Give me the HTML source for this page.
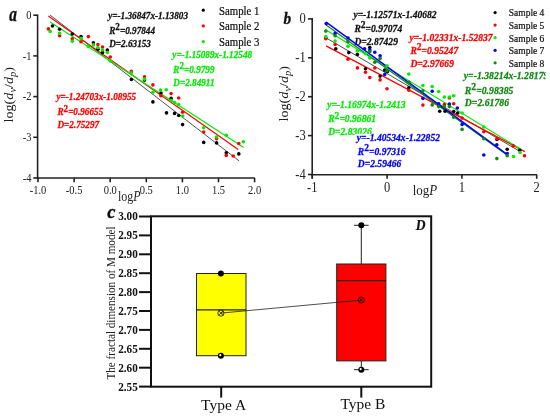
<!DOCTYPE html><html><head><meta charset="utf-8"><style>html,body{margin:0;padding:0;background:#fff;}svg{display:block;filter:blur(0.35px);}</style></head><body>
<svg width="550" height="418" viewBox="0 0 550 418" font-family='"Liberation Serif", serif'>
<rect width="550" height="418" fill="#fff"/>
<defs><clipPath id="clipb"><rect x="0" y="0" width="545.5" height="418"/></clipPath></defs>
<g stroke="#222" stroke-width="1.6" fill="none">
<line x1="37.6" y1="14.5" x2="37.6" y2="178.8"/>
<line x1="36.8" y1="178" x2="254.8" y2="178"/>
<line x1="33.3" y1="15.2" x2="37.6" y2="15.2"/>
<line x1="33.3" y1="55.9" x2="37.6" y2="55.9"/>
<line x1="33.3" y1="96.6" x2="37.6" y2="96.6"/>
<line x1="33.3" y1="137.3" x2="37.6" y2="137.3"/>
<line x1="33.3" y1="178.0" x2="37.6" y2="178.0"/>
<line x1="38.0" y1="178" x2="38.0" y2="182.3"/>
<line x1="74.1" y1="178" x2="74.1" y2="182.3"/>
<line x1="110.2" y1="178" x2="110.2" y2="182.3"/>
<line x1="146.3" y1="178" x2="146.3" y2="182.3"/>
<line x1="182.4" y1="178" x2="182.4" y2="182.3"/>
<line x1="218.5" y1="178" x2="218.5" y2="182.3"/>
<line x1="254.6" y1="178" x2="254.6" y2="182.3"/>
</g>
<g font-size="10.5" fill="#222" text-anchor="end">
<text transform="translate(31.50,18.80) scale(1,1.15)" >0</text>
<text transform="translate(31.50,59.50) scale(1,1.15)" >-1</text>
<text transform="translate(31.50,100.20) scale(1,1.15)" >-2</text>
<text transform="translate(31.50,140.90) scale(1,1.15)" >-3</text>
<text transform="translate(31.50,181.60) scale(1,1.15)" >-4</text>
</g>
<g font-size="10.5" fill="#222" text-anchor="middle">
<text transform="translate(38.00,194.00) scale(1,1.15)" >-1.0</text>
<text transform="translate(74.10,194.00) scale(1,1.15)" >-0.5</text>
<text transform="translate(110.20,194.00) scale(1,1.15)" >0.0</text>
<text transform="translate(146.30,194.00) scale(1,1.15)" >0.5</text>
<text transform="translate(182.40,194.00) scale(1,1.15)" >1.0</text>
<text transform="translate(218.50,194.00) scale(1,1.15)" >1.5</text>
<text transform="translate(254.60,194.00) scale(1,1.15)" >2.0</text>
</g>
<text transform="translate(118.00,200.50) scale(1,1.15)" font-size="12" fill="#222">log<tspan font-style="italic">P</tspan></text>
<text transform="translate(13.3,122.5) scale(1,1.05) rotate(-90)" font-size="13.5" fill="#222">log(<tspan font-style="italic">d</tspan><tspan font-style="italic" font-size="10" dy="3">v</tspan><tspan dy="-3">/</tspan><tspan font-style="italic">d</tspan><tspan font-style="italic" font-size="10" dy="3">p</tspan><tspan dy="-3">)</tspan></text>
<text transform="translate(9.3,20.6) scale(0.9,1.2)" font-size="17" font-weight="bold" font-style="italic" fill="#111" stroke="#111" stroke-width="0.35">a</text>
<line x1="50.1" y1="15.1" x2="239.1" y2="160.9" stroke="#505050" stroke-width="1.0"/>
<line x1="48.3" y1="16.0" x2="238.2" y2="149.5" stroke="#ff0000" stroke-width="1.2"/>
<line x1="50.1" y1="22.0" x2="243.7" y2="147.6" stroke="#00ee00" stroke-width="1.2"/>
<circle cx="52.5" cy="26.0" r="1.8" fill="#000000"/><circle cx="59.6" cy="29.3" r="1.8" fill="#000000"/><circle cx="72.3" cy="34.0" r="1.8" fill="#000000"/><circle cx="81" cy="36.5" r="1.8" fill="#000000"/><circle cx="93.4" cy="42.7" r="1.8" fill="#000000"/><circle cx="97.9" cy="49.3" r="1.8" fill="#000000"/><circle cx="102.5" cy="52.6" r="1.8" fill="#000000"/><circle cx="107.3" cy="50" r="1.8" fill="#000000"/><circle cx="131.4" cy="79.5" r="1.8" fill="#000000"/><circle cx="144.5" cy="80.1" r="1.8" fill="#000000"/><circle cx="152.9" cy="101.9" r="1.8" fill="#000000"/><circle cx="161" cy="93" r="1.8" fill="#000000"/><circle cx="171.1" cy="98.4" r="1.8" fill="#000000"/><circle cx="166.5" cy="112.9" r="1.8" fill="#000000"/><circle cx="174.6" cy="113.4" r="1.8" fill="#000000"/><circle cx="178.7" cy="115.5" r="1.8" fill="#000000"/><circle cx="182.6" cy="124.6" r="1.8" fill="#000000"/><circle cx="203.7" cy="142.4" r="1.8" fill="#000000"/><circle cx="216.6" cy="142.9" r="1.8" fill="#000000"/><circle cx="226.3" cy="152.8" r="1.8" fill="#000000"/><circle cx="238.8" cy="153.9" r="1.8" fill="#000000"/>
<circle cx="48.4" cy="28.9" r="1.8" fill="#ff0000"/><circle cx="59.6" cy="35.7" r="1.8" fill="#ff0000"/><circle cx="72.3" cy="38.7" r="1.8" fill="#ff0000"/><circle cx="81" cy="41.7" r="1.8" fill="#ff0000"/><circle cx="88.4" cy="36.6" r="1.8" fill="#ff0000"/><circle cx="97.9" cy="44.5" r="1.8" fill="#ff0000"/><circle cx="102.5" cy="47.1" r="1.8" fill="#ff0000"/><circle cx="110.3" cy="57" r="1.8" fill="#ff0000"/><circle cx="131.4" cy="71.4" r="1.8" fill="#ff0000"/><circle cx="144.5" cy="76.9" r="1.8" fill="#ff0000"/><circle cx="152.9" cy="84.9" r="1.8" fill="#ff0000"/><circle cx="160.9" cy="95.8" r="1.8" fill="#ff0000"/><circle cx="171.1" cy="93.6" r="1.8" fill="#ff0000"/><circle cx="178.7" cy="98" r="1.8" fill="#ff0000"/><circle cx="182.6" cy="112.3" r="1.8" fill="#ff0000"/><circle cx="203.7" cy="132.1" r="1.8" fill="#ff0000"/><circle cx="226.3" cy="155.4" r="1.8" fill="#ff0000"/><circle cx="233.2" cy="156" r="1.8" fill="#ff0000"/><circle cx="238.8" cy="143.5" r="1.8" fill="#ff0000"/><circle cx="216.6" cy="138.8" r="1.8" fill="#ff0000"/>
<circle cx="50.2" cy="31.4" r="1.8" fill="#00ee00"/><circle cx="59.6" cy="33.3" r="1.8" fill="#00ee00"/><circle cx="72.3" cy="41.3" r="1.8" fill="#00ee00"/><circle cx="81" cy="38.4" r="1.8" fill="#00ee00"/><circle cx="88.4" cy="46.4" r="1.8" fill="#00ee00"/><circle cx="93.4" cy="44.9" r="1.8" fill="#00ee00"/><circle cx="97.9" cy="47.5" r="1.8" fill="#00ee00"/><circle cx="102.5" cy="50" r="1.8" fill="#00ee00"/><circle cx="107.3" cy="52.5" r="1.8" fill="#00ee00"/><circle cx="110.3" cy="60.9" r="1.8" fill="#00ee00"/><circle cx="131.4" cy="72.8" r="1.8" fill="#00ee00"/><circle cx="144.5" cy="79.1" r="1.8" fill="#00ee00"/><circle cx="152.9" cy="92.2" r="1.8" fill="#00ee00"/><circle cx="160.6" cy="90" r="1.8" fill="#00ee00"/><circle cx="166.3" cy="89.7" r="1.8" fill="#00ee00"/><circle cx="171.1" cy="100.2" r="1.8" fill="#00ee00"/><circle cx="174.6" cy="102.6" r="1.8" fill="#00ee00"/><circle cx="178.7" cy="104.5" r="1.8" fill="#00ee00"/><circle cx="182.6" cy="116" r="1.8" fill="#00ee00"/><circle cx="203.7" cy="127.8" r="1.8" fill="#00ee00"/><circle cx="216.6" cy="137.1" r="1.8" fill="#00ee00"/><circle cx="226.3" cy="135.3" r="1.8" fill="#00ee00"/><circle cx="243.3" cy="141.8" r="1.8" fill="#00ee00"/>
<g font-size="10.8" fill="#111" stroke="#111" stroke-width="0.2">
<circle cx="203.3" cy="10.2" r="1.6" fill="#000000" stroke="none"/>
<text transform="translate(219.00,14.60) scale(1,1.2)" >Sample 1</text>
<circle cx="203.3" cy="25.9" r="1.6" fill="#ff0000" stroke="none"/>
<text transform="translate(219.00,30.30) scale(1,1.2)" >Sample 2</text>
<circle cx="203.3" cy="41.6" r="1.6" fill="#00ee00" stroke="none"/>
<text transform="translate(219.00,46.00) scale(1,1.2)" >Sample 3</text>
</g>
<g font-weight="bold" font-style="italic" font-size="9.2" fill="#111" stroke="#111" stroke-width="0.25"><text transform="translate(108.20,18.80) scale(1,1.15)" >y=-1.36847x-1.13803</text><text transform="translate(109.20,33.90) scale(1,1.15)" >R<tspan font-style="normal" dy="-3.2">2</tspan><tspan dy="3.2">=0.97844</tspan></text><text transform="translate(109.20,46.50) scale(1,1.15)" >D=2.63153</text></g>
<g font-weight="bold" font-style="italic" font-size="9.2" fill="#ff0000" stroke="#ff0000" stroke-width="0.25"><text transform="translate(56.40,100.00) scale(1,1.15)" >y=-1.24703x-1.08955</text><text transform="translate(57.40,115.30) scale(1,1.15)" >R<tspan font-style="normal" dy="-3.2">2</tspan><tspan dy="3.2">=0.96655</tspan></text><text transform="translate(57.40,128.00) scale(1,1.15)" >D=2.75297</text></g>
<g font-weight="bold" font-style="italic" font-size="9.2" fill="#00ee00" stroke="#00ee00" stroke-width="0.25"><text transform="translate(172.30,58.00) scale(1,1.15)" >y=-1.15089x-1.12548</text><text transform="translate(173.30,72.70) scale(1,1.15)" >R<tspan font-style="normal" dy="-3.2">2</tspan><tspan dy="3.2">=0.9799</tspan></text><text transform="translate(173.30,85.50) scale(1,1.15)" >D=2.84911</text></g>
<g stroke="#222" stroke-width="1.6" fill="none">
<line x1="312.2" y1="18" x2="312.2" y2="178.5"/>
<line x1="311.4" y1="174.8" x2="537" y2="174.8"/>
<line x1="308" y1="18.9" x2="312.2" y2="18.9"/>
<line x1="308" y1="57.8" x2="312.2" y2="57.8"/>
<line x1="308" y1="96.7" x2="312.2" y2="96.7"/>
<line x1="308" y1="135.6" x2="312.2" y2="135.6"/>
<line x1="308" y1="174.5" x2="312.2" y2="174.5"/>
<line x1="312.3" y1="174.8" x2="312.3" y2="178.8"/>
<line x1="387.1" y1="174.8" x2="387.1" y2="178.8"/>
<line x1="461.9" y1="174.8" x2="461.9" y2="178.8"/>
<line x1="536.7" y1="174.8" x2="536.7" y2="178.8"/>
</g>
<g font-size="12.5" fill="#222" text-anchor="end">
<text transform="translate(305.80,23.20) scale(1,1.15)" >0</text>
<text transform="translate(305.80,62.10) scale(1,1.15)" >-1</text>
<text transform="translate(305.80,101.00) scale(1,1.15)" >-2</text>
<text transform="translate(305.80,139.90) scale(1,1.15)" >-3</text>
<text transform="translate(305.80,178.80) scale(1,1.15)" >-4</text>
</g>
<g font-size="12.5" fill="#222" text-anchor="middle">
<text transform="translate(312.30,192.00) scale(1,1.15)" >-1</text>
<text transform="translate(387.10,192.00) scale(1,1.15)" >0</text>
<text transform="translate(461.90,192.00) scale(1,1.15)" >1</text>
<text transform="translate(536.70,192.00) scale(1,1.15)" >2</text>
</g>
<text transform="translate(412.70,195.00) scale(1,1.15)" font-size="13" fill="#222">log<tspan font-style="italic">P</tspan></text>
<text transform="translate(288.3,121.5) scale(1,1.05) rotate(-90)" font-size="13.5" fill="#222">log(<tspan font-style="italic">d</tspan><tspan font-style="italic" font-size="10" dy="3">v</tspan><tspan dy="-3">/</tspan><tspan font-style="italic">d</tspan><tspan font-style="italic" font-size="10" dy="3">p</tspan><tspan dy="-3">)</tspan></text>
<text transform="translate(283.50,24.20) scale(1,1.15)" font-size="15.3" font-weight="bold" font-style="italic" fill="#111" stroke="#111" stroke-width="0.3">b</text>
<g font-weight="bold" font-style="italic" font-size="9.6" fill="#111" stroke="#111" stroke-width="0.25"><text transform="translate(353.40,17.60) scale(1,1.15)" >y=-1.12571x-1.40682</text><text transform="translate(354.40,31.80) scale(1,1.15)" >R<tspan font-style="normal" dy="-3.2">2</tspan><tspan dy="3.2">=0.97074</tspan></text><text transform="translate(354.40,44.50) scale(1,1.15)" >D=2.87429</text></g>
<g font-weight="bold" font-style="italic" font-size="9.6" fill="#ff0000" stroke="#ff0000" stroke-width="0.25"><text transform="translate(409.40,40.50) scale(1,1.15)" >y=-1.02331x-1.52837</text><text transform="translate(410.40,54.10) scale(1,1.15)" >R<tspan font-style="normal" dy="-3.2">2</tspan><tspan dy="3.2">=0.95247</tspan></text><text transform="translate(410.40,66.50) scale(1,1.15)" >D=2.97669</text></g>
<g clip-path="url(#clipb)"><g font-weight="bold" font-style="italic" font-size="9.75" fill="#118811" stroke="#118811" stroke-width="0.25"><text transform="translate(463.80,79.40) scale(1,1.15)" >y=-1.38214x-1.28179</text><text transform="translate(464.80,93.60) scale(1,1.15)" >R<tspan font-style="normal" dy="-3.2">2</tspan><tspan dy="3.2">=0.98385</tspan></text><text transform="translate(464.80,105.90) scale(1,1.15)" >D=2.61786</text></g></g>
<g font-weight="bold" font-style="italic" font-size="9.6" fill="#00ee00" stroke="#00ee00" stroke-width="0.25"><text transform="translate(327.20,108.10) scale(1,1.15)" >y=-1.16974x-1.2413</text><text transform="translate(328.20,122.30) scale(1,1.15)" >R<tspan font-style="normal" dy="-3.2">2</tspan><tspan dy="3.2">=0.96861</tspan></text><text transform="translate(328.20,134.60) scale(1,1.15)" >D=2.83026</text></g>
<rect x="354.5" y="133.9" width="86" height="36" fill="#fff"/>
<g font-weight="bold" font-style="italic" font-size="9.6" fill="#0000ff" stroke="#0000ff" stroke-width="0.25"><text transform="translate(356.80,141.40) scale(1,1.15)" >y=-1.40534x-1.22852</text><text transform="translate(357.80,155.00) scale(1,1.15)" >R<tspan font-style="normal" dy="-3.2">2</tspan><tspan dy="3.2">=0.97316</tspan></text><text transform="translate(357.80,167.40) scale(1,1.15)" >D=2.59466</text></g>
<line x1="326.1" y1="37.9" x2="520.2" y2="151.6" stroke="#505050" stroke-width="1.0"/>
<line x1="326.1" y1="45.9" x2="524.8" y2="151.6" stroke="#ff0000" stroke-width="1.2"/>
<line x1="326.1" y1="30.1" x2="521.3" y2="149.6" stroke="#00ee00" stroke-width="1.2"/>
<line x1="326.1" y1="24.9" x2="507.7" y2="155.4" stroke="#118811" stroke-width="1.2"/>
<line x1="326.1" y1="22.1" x2="507.7" y2="154.8" stroke="#0000ff" stroke-width="1.45"/>
<circle cx="325.8" cy="38.0" r="1.8" fill="#000000"/><circle cx="335.8" cy="48.8" r="1.8" fill="#000000"/><circle cx="348.8" cy="52.6" r="1.8" fill="#000000"/><circle cx="357.4" cy="54.5" r="1.8" fill="#000000"/><circle cx="365.5" cy="68.7" r="1.8" fill="#000000"/><circle cx="369.8" cy="47.5" r="1.8" fill="#000000"/><circle cx="380.1" cy="76.1" r="1.8" fill="#000000"/><circle cx="384.7" cy="70.1" r="1.8" fill="#000000"/><circle cx="387.4" cy="71.6" r="1.8" fill="#000000"/><circle cx="408.8" cy="87.8" r="1.8" fill="#000000"/><circle cx="439.7" cy="111.3" r="1.8" fill="#000000"/><circle cx="445.1" cy="111.3" r="1.8" fill="#000000"/><circle cx="453.7" cy="111.6" r="1.8" fill="#000000"/><circle cx="457.7" cy="113" r="1.8" fill="#000000"/><circle cx="497" cy="139.5" r="1.8" fill="#000000"/><circle cx="507.2" cy="149.2" r="1.8" fill="#000000"/><circle cx="519.7" cy="150.3" r="1.8" fill="#000000"/>
<circle cx="325.8" cy="38.7" r="1.8" fill="#ff0000"/><circle cx="335.1" cy="44.5" r="1.8" fill="#ff0000"/><circle cx="348" cy="59.3" r="1.8" fill="#ff0000"/><circle cx="357.4" cy="67.9" r="1.8" fill="#ff0000"/><circle cx="365.5" cy="72.3" r="1.8" fill="#ff0000"/><circle cx="369.8" cy="77.6" r="1.8" fill="#ff0000"/><circle cx="374.8" cy="68" r="1.8" fill="#ff0000"/><circle cx="380.1" cy="79.9" r="1.8" fill="#ff0000"/><circle cx="387" cy="88.8" r="1.8" fill="#ff0000"/><circle cx="408.8" cy="90.2" r="1.8" fill="#ff0000"/><circle cx="422.9" cy="105.1" r="1.8" fill="#ff0000"/><circle cx="444.4" cy="104.4" r="1.8" fill="#ff0000"/><circle cx="449.4" cy="98" r="1.8" fill="#ff0000"/><circle cx="453.7" cy="103.7" r="1.8" fill="#ff0000"/><circle cx="462.1" cy="118.1" r="1.8" fill="#ff0000"/><circle cx="483.8" cy="131.8" r="1.8" fill="#ff0000"/><circle cx="497.1" cy="138.7" r="1.8" fill="#ff0000"/><circle cx="513.2" cy="145.9" r="1.8" fill="#ff0000"/><circle cx="524.5" cy="155.7" r="1.8" fill="#ff0000"/>
<circle cx="325.8" cy="36.6" r="1.8" fill="#00ee00"/><circle cx="335.1" cy="41.1" r="1.8" fill="#00ee00"/><circle cx="348" cy="46.3" r="1.8" fill="#00ee00"/><circle cx="357.4" cy="50.9" r="1.8" fill="#00ee00"/><circle cx="365.5" cy="53.6" r="1.8" fill="#00ee00"/><circle cx="369.8" cy="57.9" r="1.8" fill="#00ee00"/><circle cx="387" cy="65.8" r="1.8" fill="#00ee00"/><circle cx="408.8" cy="74.1" r="1.8" fill="#00ee00"/><circle cx="422.9" cy="85.5" r="1.8" fill="#00ee00"/><circle cx="432.2" cy="86.5" r="1.8" fill="#00ee00"/><circle cx="438.7" cy="91.5" r="1.8" fill="#00ee00"/><circle cx="444.4" cy="97" r="1.8" fill="#00ee00"/><circle cx="449.4" cy="97" r="1.8" fill="#00ee00"/><circle cx="453.7" cy="95.8" r="1.8" fill="#00ee00"/><circle cx="462.1" cy="113" r="1.8" fill="#00ee00"/><circle cx="483.8" cy="127" r="1.8" fill="#00ee00"/><circle cx="513.5" cy="156.5" r="1.8" fill="#00ee00"/><circle cx="520.1" cy="152.5" r="1.8" fill="#00ee00"/>
<circle cx="326.2" cy="23.6" r="1.8" fill="#0000ff"/><circle cx="335.1" cy="33.4" r="1.8" fill="#0000ff"/><circle cx="348" cy="38" r="1.8" fill="#0000ff"/><circle cx="364.6" cy="48.8" r="1.8" fill="#0000ff"/><circle cx="369.8" cy="50" r="1.8" fill="#0000ff"/><circle cx="374.8" cy="52.2" r="1.8" fill="#0000ff"/><circle cx="380.1" cy="55.8" r="1.8" fill="#0000ff"/><circle cx="384.7" cy="74.4" r="1.8" fill="#0000ff"/><circle cx="422.9" cy="98.4" r="1.8" fill="#0000ff"/><circle cx="432.2" cy="91.2" r="1.8" fill="#0000ff"/><circle cx="438.7" cy="103.7" r="1.8" fill="#0000ff"/><circle cx="449.4" cy="104.1" r="1.8" fill="#0000ff"/><circle cx="457.3" cy="108" r="1.8" fill="#0000ff"/><circle cx="462.1" cy="124.5" r="1.8" fill="#0000ff"/><circle cx="483.8" cy="155" r="1.8" fill="#0000ff"/><circle cx="496.8" cy="144.8" r="1.8" fill="#0000ff"/><circle cx="507.2" cy="153.5" r="1.8" fill="#0000ff"/>
<circle cx="325.8" cy="31.1" r="1.8" fill="#118811"/><circle cx="335.1" cy="35.8" r="1.8" fill="#118811"/><circle cx="348" cy="41.6" r="1.8" fill="#118811"/><circle cx="369.8" cy="51.5" r="1.8" fill="#118811"/><circle cx="374.8" cy="62.2" r="1.8" fill="#118811"/><circle cx="380.1" cy="58.4" r="1.8" fill="#118811"/><circle cx="387" cy="70.8" r="1.8" fill="#118811"/><circle cx="408.8" cy="82.3" r="1.8" fill="#118811"/><circle cx="422.9" cy="90.8" r="1.8" fill="#118811"/><circle cx="432.2" cy="104.9" r="1.8" fill="#118811"/><circle cx="438.7" cy="106.6" r="1.8" fill="#118811"/><circle cx="444.4" cy="106.6" r="1.8" fill="#118811"/><circle cx="449.4" cy="106.6" r="1.8" fill="#118811"/><circle cx="453.7" cy="117.3" r="1.8" fill="#118811"/><circle cx="462.1" cy="129.4" r="1.8" fill="#118811"/><circle cx="483.8" cy="138.7" r="1.8" fill="#118811"/><circle cx="496.8" cy="158.6" r="1.8" fill="#118811"/><circle cx="507.2" cy="155.7" r="1.8" fill="#118811"/>
<g font-size="9.5" fill="#111" stroke="#111" stroke-width="0.2">
<circle cx="495.1" cy="12.6" r="1.6" fill="#000000" stroke="none"/>
<text transform="translate(508.80,16.40) scale(1,1.15)" >Sample 4</text>
<circle cx="495.1" cy="25.1" r="1.6" fill="#ff0000" stroke="none"/>
<text transform="translate(508.80,28.95) scale(1,1.15)" >Sample 5</text>
<circle cx="495.1" cy="37.7" r="1.6" fill="#00ee00" stroke="none"/>
<text transform="translate(508.80,41.50) scale(1,1.15)" >Sample 6</text>
<circle cx="495.1" cy="50.3" r="1.6" fill="#0000ff" stroke="none"/>
<text transform="translate(508.80,54.05) scale(1,1.15)" >Sample 7</text>
<circle cx="495.1" cy="62.8" r="1.6" fill="#118811" stroke="none"/>
<text transform="translate(508.80,66.60) scale(1,1.15)" >Sample 8</text>
</g>
<g stroke="#111" stroke-width="2" fill="none">
<rect x="151" y="216.3" width="280.2" height="170.4"/>
<line x1="139" y1="216.5" x2="151" y2="216.5"/>
<line x1="139" y1="235.4" x2="151" y2="235.4"/>
<line x1="139" y1="254.3" x2="151" y2="254.3"/>
<line x1="139" y1="273.2" x2="151" y2="273.2"/>
<line x1="139" y1="292.1" x2="151" y2="292.1"/>
<line x1="139" y1="311.0" x2="151" y2="311.0"/>
<line x1="139" y1="329.9" x2="151" y2="329.9"/>
<line x1="139" y1="348.8" x2="151" y2="348.8"/>
<line x1="139" y1="367.7" x2="151" y2="367.7"/>
<line x1="139" y1="386.6" x2="151" y2="386.6"/>
<line x1="221.2" y1="386.7" x2="221.2" y2="397.6"/>
<line x1="361.3" y1="386.7" x2="361.3" y2="397.6"/>
</g>
<g font-size="11.2" font-weight="bold" fill="#111" text-anchor="end">
<text transform="translate(137.80,220.40) scale(1,1.12)" >3.00</text>
<text transform="translate(137.80,239.30) scale(1,1.12)" >2.95</text>
<text transform="translate(137.80,258.20) scale(1,1.12)" >2.90</text>
<text transform="translate(137.80,277.10) scale(1,1.12)" >2.85</text>
<text transform="translate(137.80,296.00) scale(1,1.12)" >2.80</text>
<text transform="translate(137.80,314.90) scale(1,1.12)" >2.75</text>
<text transform="translate(137.80,333.80) scale(1,1.12)" >2.70</text>
<text transform="translate(137.80,352.70) scale(1,1.12)" >2.65</text>
<text transform="translate(137.80,371.60) scale(1,1.12)" >2.60</text>
<text transform="translate(137.80,390.50) scale(1,1.12)" >2.55</text>
</g>
<text transform="translate(107.30,218.30) scale(1,1.05)" font-size="18.5" font-weight="bold" font-style="italic" fill="#111" stroke="#111" stroke-width="0.4">c</text>
<text transform="translate(415.80,230.20) scale(1,1.05)" font-size="13.5" font-weight="bold" font-style="italic" fill="#111" stroke="#111" stroke-width="0.2">D</text>
<text transform="translate(114.8,379.5) rotate(-90)" font-size="11.8" fill="#222" textLength="153" lengthAdjust="spacingAndGlyphs">The fractal dimension of M model</text>
<g font-size="15.5" fill="#111" text-anchor="middle">
<text transform="translate(223.60,410.30) scale(1,1.0)" >Type A</text>
<text transform="translate(362.90,409.40) scale(1,1.0)" >Type B</text>
</g>
<g stroke="#222" stroke-width="1">
<rect x="196.5" y="273.5" width="49.5" height="82.2" fill="#ffff00"/>
<line x1="196.5" y1="309.9" x2="246" y2="309.9" stroke-width="1.3"/>
<rect x="336.7" y="264.0" width="49.2" height="96.9" fill="#ff0000"/>
<line x1="336.7" y1="280.7" x2="385.9" y2="280.7" stroke-width="1.3"/>
<line x1="361.3" y1="225.3" x2="361.3" y2="264.0"/>
<line x1="354" y1="225.3" x2="368.6" y2="225.3"/>
<line x1="361.3" y1="360.9" x2="361.3" y2="369.7"/>
<line x1="354" y1="369.7" x2="368.6" y2="369.7"/>
<line x1="220.9" y1="313.1" x2="361.3" y2="300.1" stroke-width="0.8"/>
</g>
<circle cx="220.9" cy="273.5" r="3" fill="#000"/>
<circle cx="220.9" cy="355.8" r="3" fill="#000"/>
<circle cx="361.3" cy="225.3" r="3" fill="#000"/>
<circle cx="361.3" cy="369.7" r="3" fill="#000"/>
<circle cx="220.3" cy="355.2" r="1.1" fill="#fff"/>
<circle cx="360.7" cy="369.1" r="1.1" fill="#fff"/>
<g stroke="#111" stroke-width="0.8" fill="none"><circle cx="220.9" cy="313.1" r="3.1"/><line x1="218.70000000000002" y1="310.9" x2="223.1" y2="315.3"/><line x1="218.70000000000002" y1="315.3" x2="223.1" y2="310.9"/></g>
<g stroke="#111" stroke-width="0.8" fill="none"><circle cx="361.3" cy="300.1" r="3.1"/><line x1="359.1" y1="297.9" x2="363.5" y2="302.3"/><line x1="359.1" y1="302.3" x2="363.5" y2="297.9"/></g>
</svg></body></html>
